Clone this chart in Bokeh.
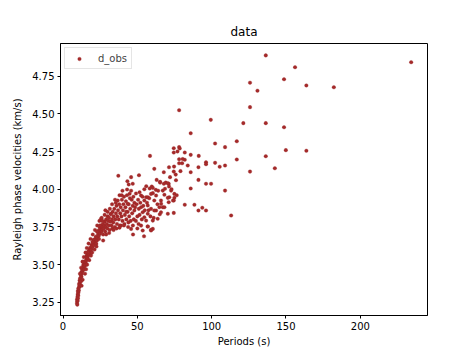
from bokeh.plotting import figure
from bokeh.models import Range1d, FixedTicker, PrintfTickFormatter, ColumnDataSource, Legend, LegendItem
from bokeh.embed import file_html
from bokeh.resources import INLINE

# Observed data: periods (s) and Rayleigh phase velocities (km/s)
periods = [
    # sparse upper right
    136.4, 156.1, 234.2, 125.8, 148.7, 130.8, 163.7, 182.2, 125.8, 121.3,
    136.4, 148.7, 116.9, 149.9, 163.7, 116.9, 136.4, 125.8, 142.5, 113.1,
    # mid sparse
    78.1, 99.4, 85.9, 102.3, 109.0, 58.5, 74.5, 78.1, 74.5, 81.9,
    85.9, 91.3, 78.1, 81.9, 78.1, 80.1, 83.9, 96.2, 96.2, 102.3,
    105.4, 109.0, 91.1, 74.7, 71.3, 61.4, 67.8, 74.5, 75.8, 85.9,
    91.1, 85.9, 96.2, 99.6, 109.0, 81.9, 88.4, 93.7, 91.1, 96.2, 74.5,
    # middle
    37.2, 45.8, 51.1, 43.3, 46.9, 43.1, 63.0, 65.3, 69.1, 71.1,
    59.7, 58.3, 54.7, 49.1, 52.5, 55.9, 60.4, 62.6, 67.1, 68.2,
    71.5, 74.5, 71.1, 66.0, 61.4, 57.0, 52.5, 48.0, 53.6, 59.2,
    62.6, 67.1, 65.1, 61.0, 55.9, 52.5, 57.0, 60.4, 47.1, 54.5, 59.2, 44.2,
    65.3, 67.8, 70.5, 71.3, 68.6, 72.7, 74.9, 60.4, 62.4, 59.2,
    57.0, 54.7, 70.5, 65.9, 74.0, 74.9, 68.2, 64.8, 61.4, 57.0,
    54.7, 65.9, 70.5, 60.4, 63.7, 57.0, 53.6, 59.2,
    77.0, 73.0, 76.5, 79.0, 80.5, 76.0, 78.5, 72.0,
    # dense core
    9.4, 9.6, 9.5, 9.8, 9.7, 10.0, 9.9, 10.2, 10.1, 10.4, 10.0, 10.6, 10.3, 9.6, 10.8,
    11.0, 10.8, 11.3, 11.6, 11.2, 11.8, 12.1, 11.5, 12.4, 12.0, 12.7, 12.3,
    13.0, 13.4, 12.8, 13.8, 14.2, 13.6, 14.5, 14.0, 15.0, 14.7, 15.3, 14.3,
    15.6, 16.0, 15.8, 16.5, 16.3, 17.0, 16.8, 17.5, 17.3, 18.0, 17.8, 18.5, 16.6, 18.2,
    19.0, 19.5, 19.2, 20.0, 20.3, 20.8, 21.0, 20.5, 21.5, 21.8, 22.4, 22.0, 22.8, 23.2, 19.8,
    23.5, 24.0, 24.4, 23.8, 25.0, 25.3, 24.7, 25.6, 26.0, 26.2, 26.6, 26.8, 25.6, 27.0, 24.2,
    27.4, 27.8, 28.0, 28.4, 28.8, 29.0, 29.4, 29.8, 30.0, 30.4, 30.8, 31.0, 31.4, 31.8, 32.0, 32.3,
    32.6, 33.0, 33.4, 33.8, 34.0, 34.5, 34.8, 35.2, 35.6, 36.0, 36.3, 36.8, 36.5, 37.0, 33.2,
    37.5, 37.8, 38.2, 38.5, 38.8, 39.0, 39.3, 39.6, 40.0, 40.3, 40.6, 41.0, 41.3, 41.6, 42.0, 42.3,
    42.6, 43.0, 43.5, 43.8, 44.2, 44.5, 44.8, 45.2, 45.5, 45.8, 45.8, 46.2, 46.5, 46.9, 47.3, 47.6, 48.0, 43.5,
    49.5, 50.0, 50.5, 51.0, 51.5, 50.8, 52.0, 53.0, 53.5, 54.0, 55.0, 49.0,
    56.5, 57.5, 58.0, 63.5, 64.0, 56.0, 58.8,
    # extra spread within the core band
    12.5, 13.2, 14.8, 15.5, 16.2, 17.6, 18.8, 19.6, 21.2, 22.5,
    11.4, 12.2, 13.1, 14.0, 15.1, 16.0, 17.2, 18.5, 20.0, 21.5,
    23.0, 24.5, 26.0, 28.0, 30.0, 33.0, 35.0, 38.0, 40.0, 27.0,
    29.0, 31.0, 34.0, 36.0, 38.0, 41.0, 44.0, 47.0, 50.0, 39.5,
    35.5, 31.5, 28.5, 26.5, 24.8, 22.8, 42.5, 45.0, 48.5, 51.5,
]

velocities = [
    4.887, 4.809, 4.842, 4.706, 4.729, 4.653, 4.688, 4.676, 4.544, 4.438,
    4.438, 4.411, 4.318, 4.259, 4.255, 4.197, 4.219, 4.117, 4.139, 3.826,
    4.524, 4.460, 4.371, 4.303, 4.279, 4.221, 4.272, 4.279, 4.243, 4.243,
    4.228, 4.221, 4.199, 4.195, 4.172, 4.172, 4.157, 4.179, 4.166, 4.175,
    4.149, 4.157, 4.146, 4.150, 4.146, 4.135, 4.113, 4.117, 4.097, 4.113,
    4.062, 4.005, 4.036, 4.036, 3.991, 3.897, 3.897, 3.877, 3.859, 3.859, 3.843,
    4.089, 4.080, 4.093, 4.053, 4.036, 3.998, 4.062, 4.049, 4.044, 4.036,
    4.018, 4.005, 4.000, 3.972, 3.958, 3.947, 3.974, 3.958, 3.991, 3.963,
    3.947, 3.925, 3.914, 3.903, 3.925, 3.892, 3.881, 3.859, 3.847, 3.870,
    3.859, 3.881, 3.834, 3.810, 3.792, 3.759, 3.753, 3.737, 3.700, 3.688, 3.731, 4.031,
    4.044, 4.036, 4.040, 4.018, 4.003, 3.991, 3.969, 4.009, 3.996, 3.969,
    3.947, 3.925, 3.943, 3.925, 3.925, 3.943, 3.881, 3.881, 3.859, 3.837,
    3.814, 3.847, 3.837, 3.792, 3.804, 3.753, 3.726, 3.726,
    4.250, 4.000, 3.960, 4.120, 4.200, 4.060, 4.270, 4.080,
    3.245, 3.258, 3.270, 3.262, 3.285, 3.278, 3.300, 3.295, 3.310, 3.318, 3.325, 3.330, 3.342, 3.235, 3.350,
    3.360, 3.372, 3.380, 3.365, 3.395, 3.400, 3.390, 3.410, 3.420, 3.430, 3.440, 3.450,
    3.455, 3.465, 3.470, 3.480, 3.470, 3.495, 3.490, 3.505, 3.500, 3.515, 3.520, 3.520,
    3.530, 3.540, 3.555, 3.545, 3.565, 3.560, 3.575, 3.570, 3.590, 3.580, 3.600, 3.595, 3.582, 3.612,
    3.600, 3.615, 3.630, 3.620, 3.640, 3.630, 3.655, 3.665, 3.645, 3.670, 3.638, 3.685, 3.660, 3.680, 3.650,
    3.700, 3.690, 3.715, 3.725, 3.705, 3.730, 3.745, 3.760, 3.720, 3.750, 3.735, 3.770, 3.804, 3.700, 3.670,
    3.740, 3.760, 3.785, 3.720, 3.750, 3.800, 3.770, 3.740, 3.820, 3.790, 3.760, 3.810, 3.730, 3.785, 3.835, 3.837,
    3.760, 3.800, 3.850, 3.780, 3.820, 3.870, 3.750, 3.800, 3.840, 3.890, 3.770, 3.925, 3.820, 3.860, 3.740,
    3.800, 3.900, 3.760, 3.840, 3.880, 3.759, 3.820, 3.930, 3.790, 3.860, 3.900, 3.950, 3.770, 3.830, 3.880, 3.920,
    3.800, 3.960, 3.850, 3.750, 3.900, 3.820, 3.970, 3.870, 3.790, 3.737, 3.990, 3.930, 3.840, 3.890, 3.950, 3.800, 3.910, 3.903,
    3.900, 3.820, 3.930, 3.870, 3.980, 3.770, 3.910, 3.800, 3.950, 3.890, 3.860, 3.790,
    3.910, 3.860, 3.940, 3.900, 3.990, 4.020, 3.820,
    3.360, 3.400, 3.440, 3.470, 3.500, 3.530, 3.560, 3.580, 3.600, 3.620,
    3.440, 3.480, 3.520, 3.550, 3.580, 3.610, 3.640, 3.670, 3.700, 3.730,
    3.760, 3.790, 3.810, 3.830, 3.850, 3.900, 3.930, 3.960, 3.990, 3.660,
    3.700, 3.710, 3.730, 3.740, 3.745, 3.760, 3.780, 3.760, 3.740, 3.960,
    3.910, 3.870, 3.860, 3.790, 3.760, 3.720, 3.850, 3.940, 3.880, 3.830,
]

x_ticks = [0, 50, 100, 150, 200]
y_ticks = [3.25, 3.50, 3.75, 4.00, 4.25, 4.50, 4.75]

FONT = "DejaVu Sans"

p = figure(width=474, height=355, output_backend="svg", toolbar_location=None,
           x_range=Range1d(-1.7, 245.2), y_range=Range1d(3.163, 4.966),
           title="data", min_border_left=60, min_border_right=47,
           min_border_top=43, min_border_bottom=40)
p.background_fill_color = "white"
p.border_fill_color = "white"
p.outline_line_color = "black"
p.outline_line_width = 1
p.xgrid.visible = False
p.ygrid.visible = False

p.title.align = "center"
p.title.text_font = FONT
p.title.text_font_size = "12px"
p.title.text_font_style = "normal"
p.title.text_color = "black"

for ax in (p.xaxis[0], p.yaxis[0]):
    ax.axis_line_color = "black"
    ax.major_tick_line_color = "black"
    ax.major_tick_out = 3
    ax.major_tick_in = 0
    ax.minor_tick_line_color = None
    ax.major_label_text_font = FONT
    ax.major_label_text_font_size = "10px"
    ax.major_label_text_color = "black"
    ax.axis_label_text_font = FONT
    ax.axis_label_text_font_size = "10px"
    ax.axis_label_text_font_style = "normal"
    ax.axis_label_text_color = "black"
    ax.major_label_standoff = 3

p.xaxis[0].ticker = FixedTicker(ticks=x_ticks)
p.yaxis[0].ticker = FixedTicker(ticks=y_ticks)
p.yaxis[0].formatter = PrintfTickFormatter(format="%.2f")
p.xaxis[0].axis_label = "Periods (s)"
p.yaxis[0].axis_label = "Rayleigh phase velocities (km/s)"
p.xaxis[0].axis_label_standoff = 3
p.yaxis[0].axis_label_standoff = 6

src = ColumnDataSource(data=dict(x=periods, y=velocities))
r = p.scatter("x", "y", source=src, size=3.6, fill_color="#a52a2a", line_color="#9a2424",
              line_width=0.3)

legend = Legend(items=[LegendItem(label="d_obs", renderers=[r])], location="top_left")
legend.label_text_font = FONT
legend.label_text_font_size = "10px"
legend.label_standoff = 9
legend.glyph_width = 20
legend.glyph_height = 9
legend.label_height = 12
legend.padding = 4
legend.margin = 4
legend.spacing = 0
legend.border_line_color = "#cccccc"
legend.border_line_width = 1
legend.background_fill_alpha = 0.8
p.add_layout(legend)

open("out.html", "w").write(file_html(p, INLINE))
